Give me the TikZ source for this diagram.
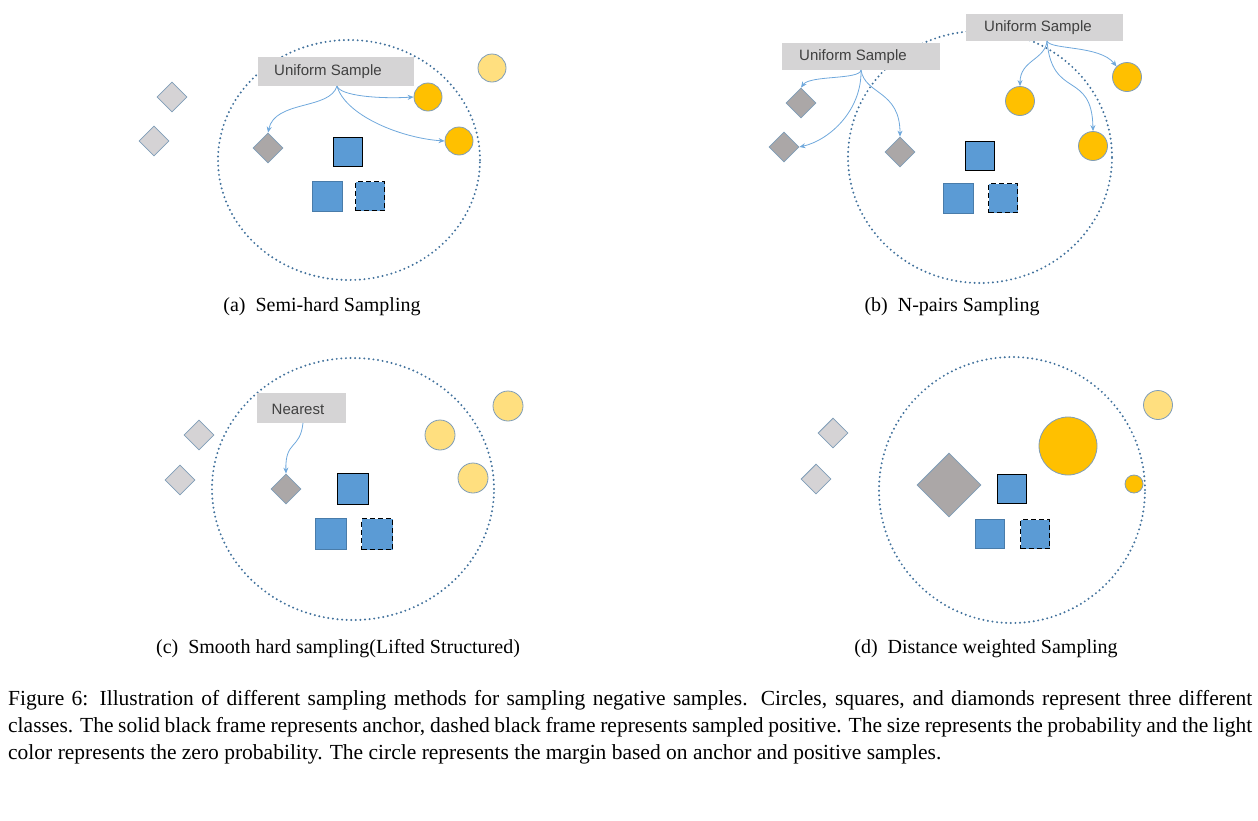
\documentclass[tikz,border=0pt]{standalone}
\usepackage{fontspec}
\setmainfont{Liberation Serif}
\newfontfamily\lsans{Liberation Sans}
\usetikzlibrary{shapes.geometric,arrows.meta}
\definecolor{sqb}{HTML}{5B9BD5}
\definecolor{org}{HTML}{FFC000}
\definecolor{lorg}{HTML}{FFDF7F}
\definecolor{dgr}{HTML}{ABA7A7}
\definecolor{lgr}{HTML}{D5D3D5}
\definecolor{edg}{HTML}{7F9DB8}
\definecolor{mrg}{HTML}{41719C}
\definecolor{arr}{HTML}{6FA8DC}
\definecolor{lab}{HTML}{D5D4D5}
\begin{document}
\begin{tikzpicture}[x=1pt,y=-1pt,
 marg/.style={draw=mrg,line width=2.2pt,dash pattern=on 0pt off 4.6pt,line cap=round,fill=none},
 sq/.style={rectangle,fill=sqb,minimum size=#1pt,inner sep=0pt,draw=sqb!80!black,line width=0.3pt},
 anc/.style={rectangle,fill=sqb,minimum size=#1pt,inner sep=0pt,draw=black,line width=1.8pt},
 pos/.style={rectangle,fill=sqb,minimum size=#1pt,inner sep=0pt,draw=black,line width=1.8pt,dash pattern=on 5pt off 3pt},
 dia/.style={diamond,aspect=1,fill=dgr,draw=edg,line width=0.8pt,minimum size=#1pt,inner sep=0pt},
 ldia/.style={diamond,aspect=1,fill=lgr,draw=edg,line width=0.8pt,minimum size=#1pt,inner sep=0pt},
 cir/.style={circle,fill=org,draw=edg,line width=0.8pt,minimum size=#1pt,inner sep=0pt},
 lcir/.style={circle,fill=lorg,draw=edg,line width=0.8pt,minimum size=#1pt,inner sep=0pt},
 lbl/.style={fill=lab,inner sep=0pt,anchor=north west},
 lt/.style={font=\lsans\fontsize{15}{15}\selectfont,text=black!75},
 ar/.style={draw=arr,line width=0.8pt,-{Stealth[length=6pt,width=5pt]}},
 subcap/.style={font=\fontsize{20}{24}\selectfont}]
\useasboundingbox (0,0) rectangle (1258,820);
% ---------- (a)
\node[marg,ellipse,minimum width=262pt,minimum height=240pt] (ma) at (349,160) {};
\node[lbl,minimum width=156pt,minimum height=29pt] (la) at (258,57) {};
\node[lt] (lat) at (328,72) {Uniform Sample};
\coordinate (sa) at (337,86);
\node[ldia=30] (a1) at (172,97) {};
\node[ldia=30] (a2) at (154,141) {};
\node[dia=30] (a3) at (268,148) {};
\node[cir=28] (a4) at (428,97) {};
\node[cir=28] (a5) at (459,141) {};
\node[lcir=28] (a6) at (492,68) {};
\node[anc=29] (a7) at (348,152) {};
\node[sq=30] (a8) at (327,196) {};
\node[pos=29] (a9) at (370,196) {};
\draw[ar] (sa) .. controls (340,96) and (380,99) .. (a4.west);
\draw[ar] (sa) .. controls (345,115) and (400,138) .. (a5.west);
\draw[ar] (sa) .. controls (330,110) and (275,100) .. (a3.north);
\node[subcap] (ca) at (322,307) {(a)\ \ Semi-hard Sampling};
% ---------- (b)
\node[marg,ellipse,minimum width=264pt,minimum height=252pt] (mb) at (980,157) {};
\node[lbl,minimum width=158pt,minimum height=27pt] (lb1) at (782,43) {};
\node[lt] (lb1t) at (853,57) {Uniform Sample};
\node[lbl,minimum width=157pt,minimum height=27pt] (lb2) at (966,14) {};
\node[lt] (lb2t) at (1038,28) {Uniform Sample};
\coordinate (sb1) at (861,70);
\coordinate (sb2) at (1047,41);
\node[dia=30] (b1) at (801,103) {};
\node[dia=30] (b2) at (784,147) {};
\node[dia=30] (b3) at (900,152) {};
\node[cir=29] (b4) at (1020,101) {};
\node[cir=29] (b5) at (1127,77) {};
\node[cir=29] (b6) at (1093,146) {};
\node[anc=29] (b7) at (980,156) {};
\node[sq=30] (b8) at (958,198) {};
\node[pos=29] (b9) at (1003,198) {};
\draw[ar] (sb1) .. controls (860,80) and (810,75) .. (b1.north);
\draw[ar] (sb1) .. controls (862,110) and (830,140) .. (b2.east);
\draw[ar] (sb1) .. controls (865,95) and (900,90) .. (b3.north);
\draw[ar] (sb2) .. controls (1045,60) and (1020,60) .. (b4.north);
\draw[ar] (sb2) .. controls (1050,50) and (1100,45) .. (b5.north west);
\draw[ar] (sb2) .. controls (1052,100) and (1092,70) .. (b6.north);
\node[subcap] (cb) at (952,307) {(b)\ \ N-pairs Sampling};
% ---------- (c)
\node[marg,ellipse,minimum width=282pt,minimum height=262pt] (mc) at (353,489) {};
\node[lbl,minimum width=89pt,minimum height=30pt] (lc) at (257,393) {};
\node[lt] (lct) at (298,409) {Nearest};
\coordinate (sc) at (303,423);
\node[ldia=30] (c1) at (199,435) {};
\node[ldia=30] (c2) at (180,480) {};
\node[dia=30] (c3) at (286,489) {};
\node[lcir=30] (c4) at (440,435) {};
\node[lcir=30] (c5) at (473,478) {};
\node[lcir=30] (c6) at (508,406) {};
\node[anc=31] (c7) at (353,489) {};
\node[sq=31] (c8) at (331,534) {};
\node[pos=31] (c9) at (377,534) {};
\draw[ar] (sc) .. controls (300,450) and (285,440) .. (c3.north);
\node[subcap] (cc) at (338,649) {(c)\ \ Smooth hard sampling(Lifted Structured)};
% ---------- (d)
\node[marg,ellipse,minimum width=266pt,minimum height=266pt] (md) at (1012,490) {};
\node[ldia=30] (d1) at (833,433) {};
\node[ldia=30] (d2) at (816,479) {};
\node[dia=64] (d3) at (949,485) {};
\node[cir=58] (d4) at (1068,446) {};
\node[cir=18] (d5) at (1134,484) {};
\node[lcir=29] (d6) at (1158,405) {};
\node[anc=29] (d7) at (1012,489) {};
\node[sq=29] (d8) at (990,534) {};
\node[pos=29] (d9) at (1035,534) {};
\node[subcap] (cd) at (986,649) {(d)\ \ Distance weighted Sampling};
% ---------- caption
\node[anchor=north west,inner sep=0pt,text width=1244pt,align=justify,font=\fontsize{21.5}{27}\selectfont] (fc) at (8,690) {Figure 6: Illustration of different sampling methods for sampling negative samples. Circles, squares, and diamonds represent three different classes. The solid black frame represents anchor, dashed black frame represents sampled positive. The size represents the probability and the light color represents the zero probability. The circle represents the margin based on anchor and positive samples.};
\end{tikzpicture}
\end{document}
